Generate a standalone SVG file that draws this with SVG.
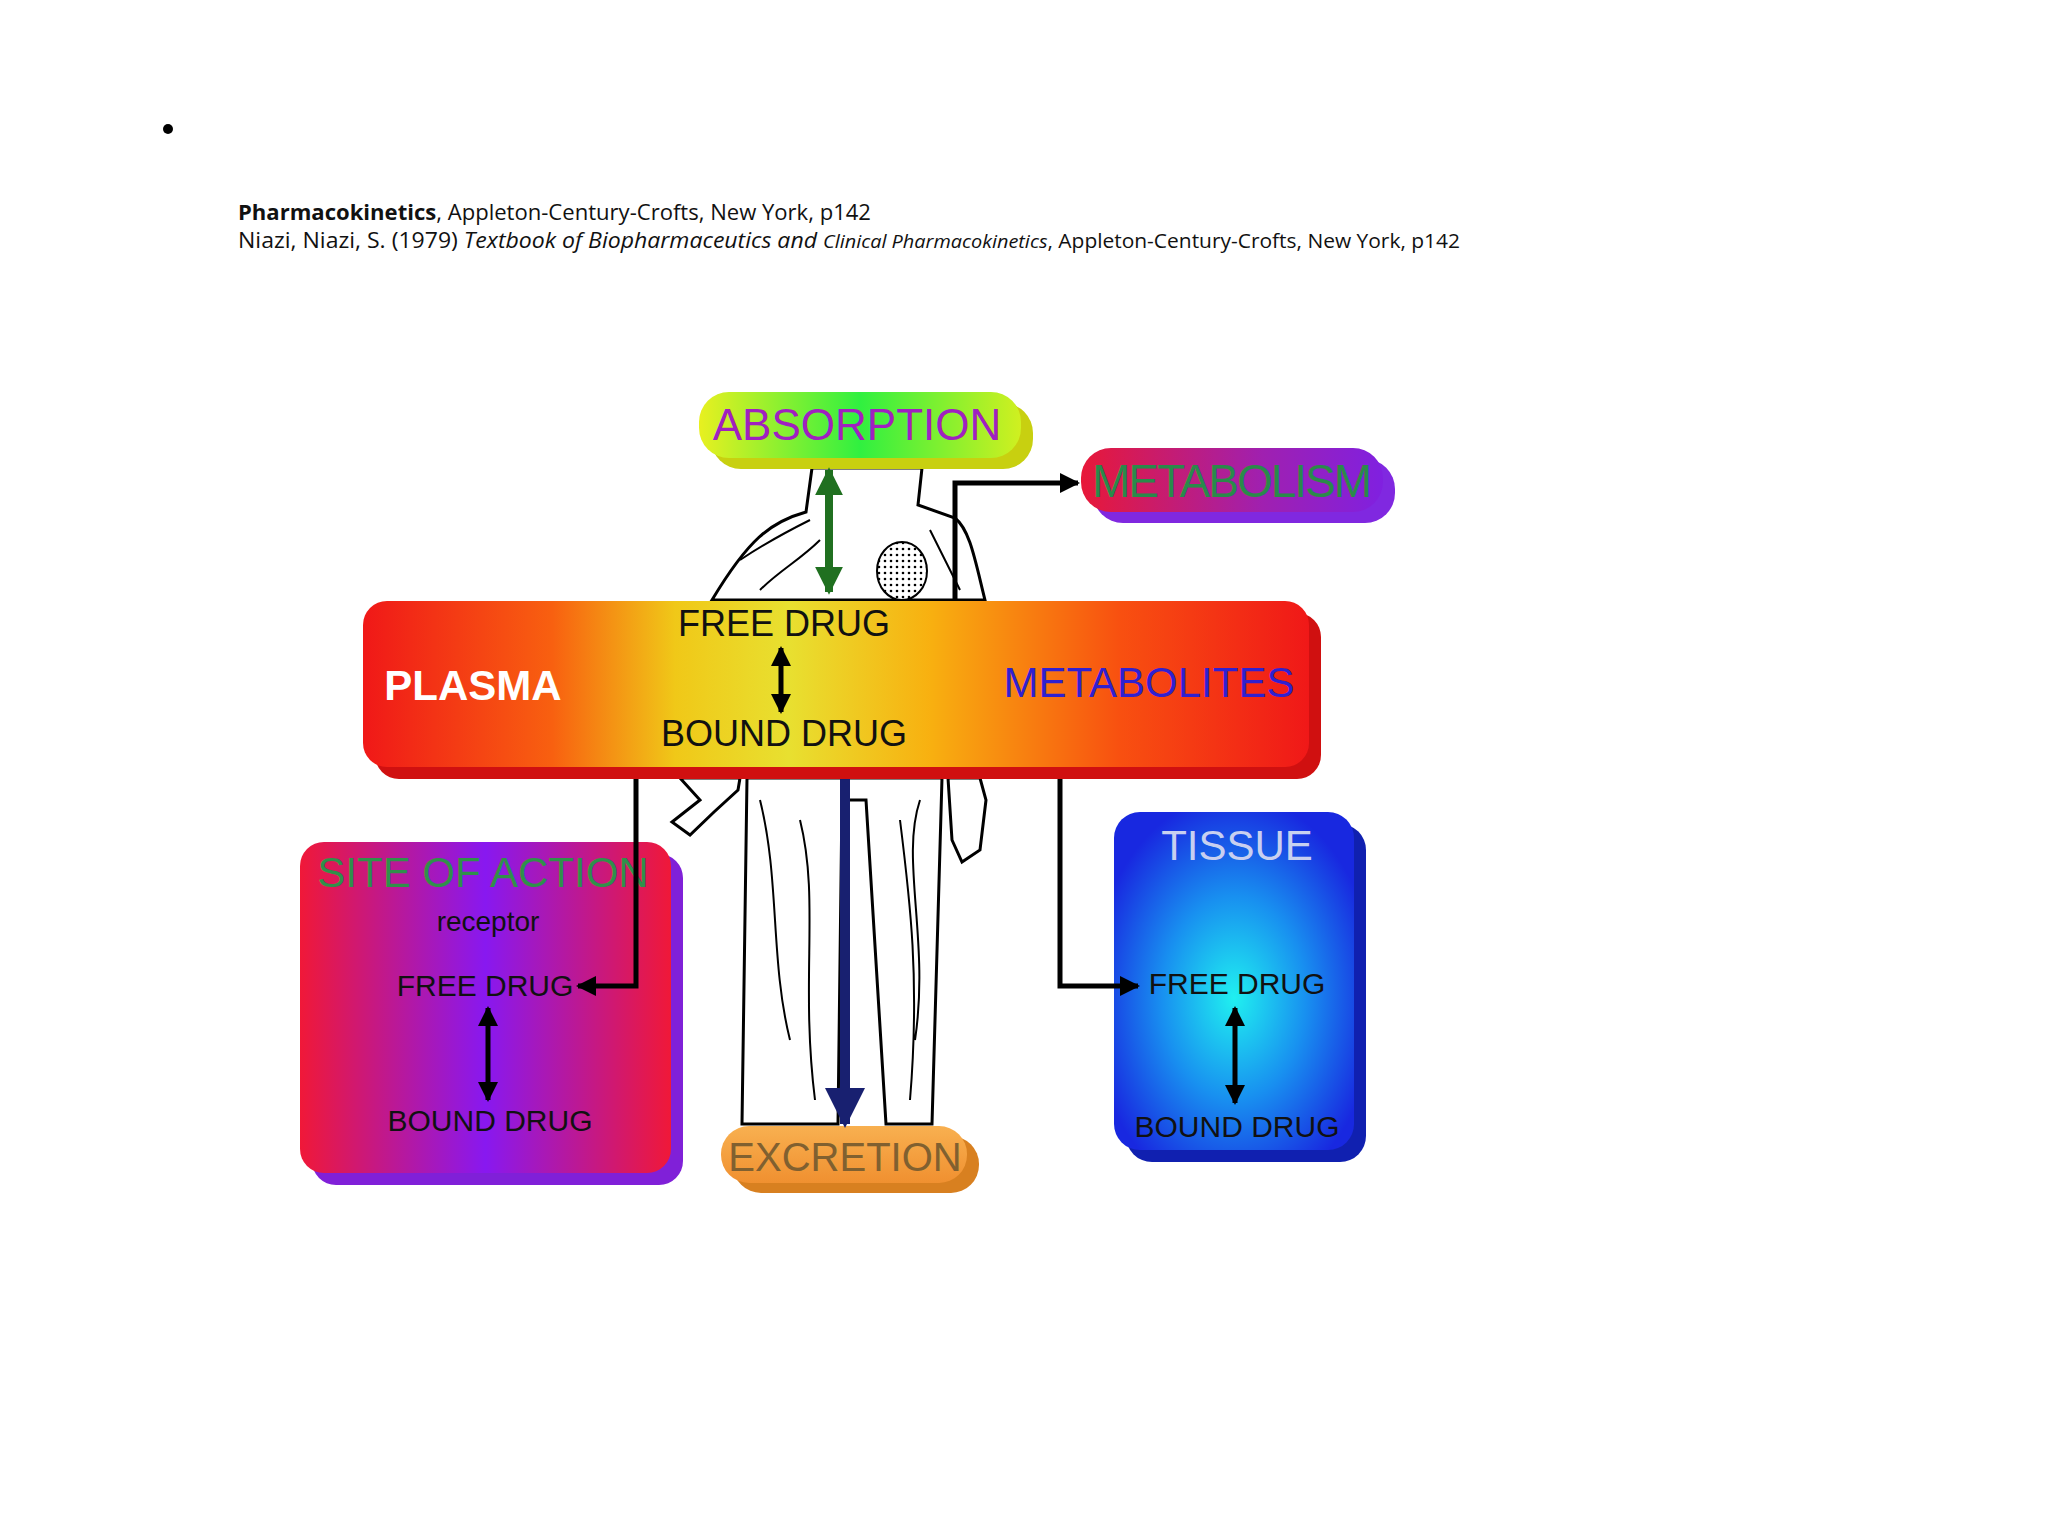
<svg xmlns="http://www.w3.org/2000/svg" width="2048" height="1536" viewBox="0 0 2048 1536">
<defs>
<style>
.lab{font-family:"Liberation Sans",Arial,sans-serif;text-anchor:middle}
.blk{fill:#111;font-size:36px}
.ref{font-family:"Open Sans","Liberation Sans",sans-serif;font-size:22px;fill:#111}
.conn{fill:none;stroke:#000;stroke-width:5}
.body{fill:#fff;stroke:#000;stroke-width:3}
</style>
<linearGradient id="gAbs" x1="0" x2="1"><stop offset="0" stop-color="#e8f020"/><stop offset="0.5" stop-color="#30f040"/><stop offset="1" stop-color="#d0f020"/></linearGradient>
<linearGradient id="gMet" x1="0" x2="1"><stop offset="0" stop-color="#e81838"/><stop offset="0.6" stop-color="#a020b0"/><stop offset="1" stop-color="#8020e0"/></linearGradient>
<linearGradient id="gPla" x1="0" x2="1"><stop offset="0" stop-color="#f01818"/><stop offset="0.2" stop-color="#f86010"/><stop offset="0.33" stop-color="#f0c818"/><stop offset="0.45" stop-color="#e8e030"/><stop offset="0.6" stop-color="#f8b010"/><stop offset="0.8" stop-color="#f85010"/><stop offset="1" stop-color="#f01818"/></linearGradient>
<linearGradient id="gSite" x1="0" x2="1"><stop offset="0" stop-color="#f01838"/><stop offset="0.5" stop-color="#8818f0"/><stop offset="1" stop-color="#f01838"/></linearGradient>
<radialGradient id="gTis" cx="0.5" cy="0.55" r="0.6"><stop offset="0" stop-color="#20f0f0"/><stop offset="0.5" stop-color="#1890f0"/><stop offset="1" stop-color="#1828e0"/></radialGradient>
<linearGradient id="gExc" x1="0" x2="0" y1="0" y2="1"><stop offset="0" stop-color="#f8b050"/><stop offset="1" stop-color="#f09030"/></linearGradient>
<pattern id="dots" width="6" height="6" patternUnits="userSpaceOnUse"><rect width="6" height="6" fill="#fff"/><circle cx="3" cy="3" r="1.3" fill="#000"/></pattern>
<marker id="ah" viewBox="0 0 10 10" refX="9" refY="5" markerWidth="4" markerHeight="4" orient="auto-start-reverse"><path d="M0,0 L10,5 L0,10 z" fill="#000"/></marker>
<marker id="ahG" viewBox="0 0 10 10" refX="9" refY="5" markerWidth="3.5" markerHeight="4" orient="auto-start-reverse"><path d="M0,0 L10,5 L0,10 z" fill="#207020"/></marker>
<marker id="ahN" viewBox="0 0 10 10" refX="9" refY="5" markerWidth="4" markerHeight="4" orient="auto"><path d="M0,0 L10,5 L0,10 z" fill="#182070"/></marker>
</defs>
<rect width="2048" height="1536" fill="#fff"/>
<circle cx="168" cy="129" r="5" fill="#000"/>
<text class="ref" x="238" y="220" textLength="633" lengthAdjust="spacingAndGlyphs"><tspan font-weight="bold">Pharmacokinetics</tspan>, Appleton-Century-Crofts, New York, p142</text>
<text class="ref" x="238" y="248" textLength="1222" lengthAdjust="spacingAndGlyphs">Niazi, Niazi, S. (1979)  <tspan font-style="italic">Textbook of Biopharmaceutics and <tspan font-size="19px">Clinical Pharmacokinetics</tspan></tspan><tspan font-size="20px">, Appleton-Century-Crofts, New York, p142</tspan></text>

<g id="body">
<path class="body" d="M812,468 L806,512 C770,522 748,540 712,600 L985,600 C975,560 970,530 955,518 L918,505 L922,468 Z"/>
<path class="body" d="M747,778 L742,1124 L838,1124 L842,800 L866,800 L886,1124 L932,1124 L942,778 Z"/>
<path class="body" d="M680,778 L700,800 L672,822 L690,835 L714,812 L738,790 L740,778 Z"/>
<path class="body" d="M948,778 L952,840 L962,862 L980,850 L986,800 L980,778 Z"/>
<path fill="none" stroke="#000" stroke-width="2" d="M760,800 C780,880 770,960 790,1040 M800,820 C820,900 800,980 815,1100 M900,820 C910,900 920,980 910,1100 M920,800 C900,860 930,940 915,1040 M740,560 C770,540 790,530 810,520 M760,590 C780,570 800,560 820,540 M930,530 C940,550 950,570 960,590"/>
<ellipse cx="902" cy="571" rx="25" ry="29" fill="url(#dots)" stroke="#000" stroke-width="2"/>
</g>

<g id="absorption">
<rect x="711" y="403" width="322" height="66" rx="30" fill="#c8d010"/>
<rect x="699" y="392" width="322" height="66" rx="30" fill="url(#gAbs)"/>
<text class="lab" x="857" y="440" font-size="44" fill="#a020c0">ABSORPTION</text>
</g>
<g id="metabolism">
<rect x="1093" y="459" width="302" height="64" rx="30" fill="#8028e0"/>
<rect x="1081" y="448" width="302" height="64" rx="30" fill="url(#gMet)"/>
<text class="lab" x="1232" y="497" font-size="46" fill="#2a8a4a" textLength="280">METABOLISM</text>
</g>
<g id="plasma">
<rect x="375" y="613" width="946" height="166" rx="24" fill="#d01010"/>
<rect x="363" y="601" width="946" height="166" rx="24" fill="url(#gPla)"/>
<text class="lab" x="473" y="700" font-size="42" font-weight="bold" fill="#fff">PLASMA</text>
<text class="lab" x="1149" y="697" font-size="42" fill="#3020d0">METABOLITES</text>
<text class="lab blk" x="784" y="636">FREE DRUG</text>
<text class="lab blk" x="784" y="746">BOUND DRUG</text>
</g>
<g id="site">
<rect x="312" y="854" width="371" height="331" rx="24" fill="#8020d8"/>
<rect x="300" y="842" width="371" height="331" rx="24" fill="url(#gSite)"/>
<text class="lab" x="483" y="887" font-size="42" fill="#30904a">SITE OF ACTION</text>
<text class="lab" x="488" y="931" font-size="28" fill="#111">receptor</text>
<text class="lab" x="485" y="996" font-size="30" fill="#111">FREE DRUG</text>
<text class="lab" x="490" y="1131" font-size="30" fill="#111">BOUND DRUG</text>
</g>
<g id="tissue">
<rect x="1126" y="824" width="240" height="338" rx="26" fill="#1020b0"/>
<rect x="1114" y="812" width="240" height="338" rx="26" fill="url(#gTis)"/>
<text class="lab" x="1237" y="860" font-size="42" fill="#c8d0f0">TISSUE</text>
<text class="lab" x="1237" y="994" font-size="30" fill="#111">FREE DRUG</text>
<text class="lab" x="1237" y="1137" font-size="30" fill="#111">BOUND DRUG</text>
</g>
<g id="excretion">
<rect x="733" y="1136" width="246" height="57" rx="28" fill="#d88020"/>
<rect x="721" y="1126" width="246" height="57" rx="28" fill="url(#gExc)"/>
<text class="lab" x="845" y="1171" font-size="40" fill="#806030">EXCRETION</text>
</g>

<g id="connectors">
<path d="M829,470 L829,592" stroke="#207020" stroke-width="8" fill="none" marker-start="url(#ahG)" marker-end="url(#ahG)"/>
<path class="conn" d="M781,648 L781,712" marker-start="url(#ah)" marker-end="url(#ah)"/>
<path class="conn" d="M955,601 L955,483 L1078,483" marker-end="url(#ah)"/>
<path class="conn" d="M636,779 L636,986 L578,986" marker-end="url(#ah)"/>
<path class="conn" d="M1060,779 L1060,986 L1138,986" marker-end="url(#ah)"/>
<path d="M845,779 L845,1124" stroke="#182070" stroke-width="10" fill="none" marker-end="url(#ahN)"/>
<path class="conn" d="M488,1008 L488,1100" marker-start="url(#ah)" marker-end="url(#ah)"/>
<path class="conn" d="M1235,1008 L1235,1103" marker-start="url(#ah)" marker-end="url(#ah)"/>
</g>
</svg>
